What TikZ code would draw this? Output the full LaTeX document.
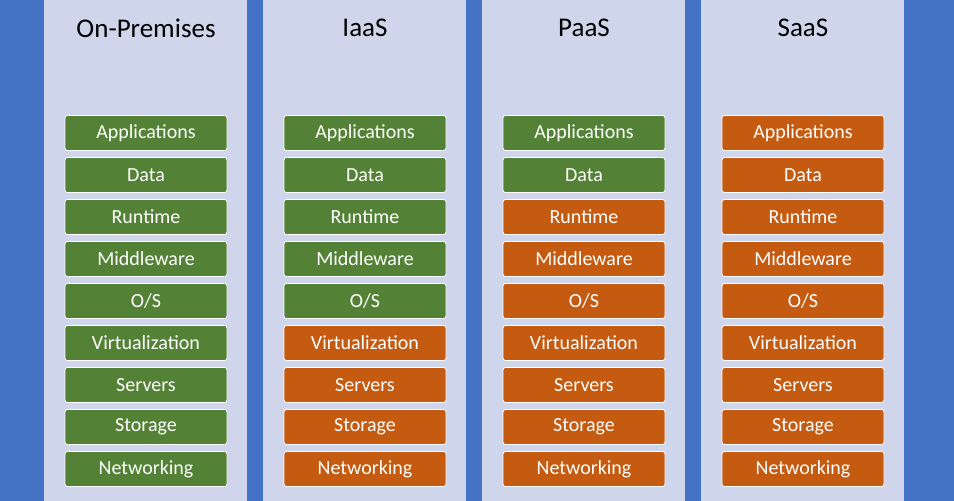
\documentclass[tikz,border=0pt]{standalone}
\usepackage{fontspec}
\setmainfont{Carlito}
\definecolor{bg}{HTML}{4472C4}
\definecolor{col}{HTML}{CFD5EA}
\definecolor{grn}{HTML}{538135}
\definecolor{org}{HTML}{C55A11}
\tikzset{
  layer/.style={draw=white, line width=0.8pt, rounded corners=2.5pt, minimum width=162pt, minimum height=35pt, inner sep=0pt, text=white, font=\fontsize{20}{22}\selectfont},
  title/.style={font=\fontsize{27}{30}\selectfont, text=black}
}
\begin{document}
\begin{tikzpicture}[x=1pt,y=-1pt]
\fill[bg] (0,0) rectangle (954,501);
\useasboundingbox (0,0) rectangle (954,501);
\foreach \cx/\t/\k [count=\c] in {146/On-Premises/9, 365/IaaS/5, 584/PaaS/2, 803/SaaS/0}{
  \fill[col] (\cx-102,0) rectangle (\cx+101,501);
  \node[title] (t\c) at (\cx,28) {\t};
  \foreach \n [count=\i from 0] in {Applications,Data,Runtime,Middleware,O/S,Virtualization,Servers,Storage,Networking}{
    \pgfmathsetmacro{\yy}{133+42*\i}
    \ifnum\i<\k
      \node[layer, fill=grn] (b\c-\i) at (\cx,\yy) {\n};
    \else
      \node[layer, fill=org] (b\c-\i) at (\cx,\yy) {\n};
    \fi
  }
}
\end{tikzpicture}
\end{document}
